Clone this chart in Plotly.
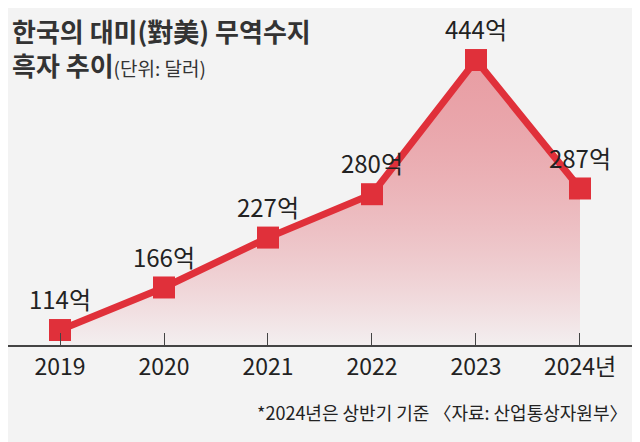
import plotly.graph_objects as go

years = [2019, 2020, 2021, 2022, 2023, 2024]
surplus = [114, 166, 227, 280, 444, 287]
tick_text = ["2019", "2020", "2021", "2022", "2023", "2024년"]
labels = ["114억", "166억", "227억", "280억", "444억", "287억"]

red = "#e0303a"
bg = "#f3f3f3"
font = "Noto Sans CJK KR"

fig = go.Figure()

# 그라데이션 면적
fig.add_trace(go.Scatter(
    x=years, y=surplus, mode="none", fill="tozeroy",
    fillgradient=dict(type="vertical",
                      colorscale=[[0, "rgba(243,243,243,1)"], [0.22, "rgba(243,238,239,1)"],
                                  [1, "rgba(225,100,110,0.6)"]]),
    hoverinfo="skip", showlegend=False,
))

fig.add_trace(go.Scatter(
    x=years, y=surplus, mode="lines+markers+text",
    line=dict(color=red, width=7),
    marker=dict(symbol="square", size=22, color=red),
    text=labels, textposition="top center",
    textfont=dict(family=font, size=24, color="#222"),
    showlegend=False,
))

fig.update_xaxes(range=[2018.5, 2024.654], tickvals=years, ticktext=tick_text,
                 showgrid=False, zeroline=False, showline=True, linecolor="#444",
                 linewidth=2, ticks="inside", ticklen=12, tickcolor="#444",
                 tickfont=dict(family=font, size=23, color="#222"))
fig.update_yaxes(range=[95.7, 507.6], visible=False)

fig.add_annotation(xref="paper", yref="paper", x=0.003, y=0.995, xanchor="left", yanchor="top",
                   align="left", showarrow=False,
                   text="<b>한국의 대미(對美) 무역수지</b><br><b>흑자 추이</b>"
                        "<span style='font-size:19px'>(단위: 달러)</span>",
                   font=dict(family=font, size=26, color="#333"))
fig.add_annotation(xref="paper", yref="paper", x=0.97, y=-0.2, xanchor="right", yanchor="middle",
                   showarrow=False, text="*2024년은 상반기 기준 〈자료: 산업통상자원부〉",
                   font=dict(family=font, size=18, color="#222"))

fig.update_layout(width=640, height=442, margin=dict(l=0, r=0, t=0, b=105),
                  plot_bgcolor=bg, paper_bgcolor=bg)

fig.write_html("out.html")
